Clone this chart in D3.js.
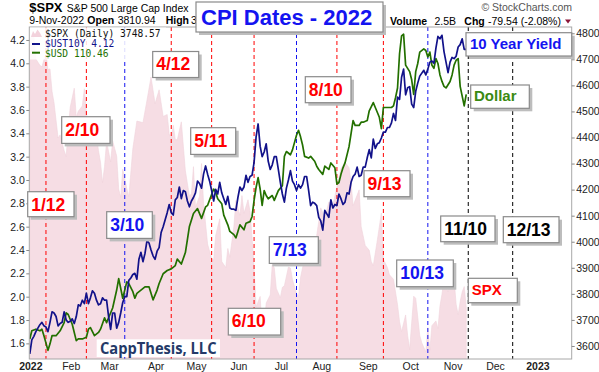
<!DOCTYPE html>
<html>
<head>
<meta charset="utf-8">
<script src="https://cdn.jsdelivr.net/npm/d3@7"></script>
<style>
  body { margin: 0; background: #fff; }
  svg { display: block; font-family: 'Liberation Sans', Arial, sans-serif; }
</style>
</head>
<body>
<svg></svg>
<script>
// ---- data ----
const spxData = [
  ['2021-12-31',4766],['2022-01-03',4797],['2022-01-04',4793],['2022-01-05',4701],['2022-01-07',4677],['2022-01-10',4671],
  ['2022-01-12',4726],['2022-01-13',4660],['2022-01-14',4663],['2022-01-18',4577],['2022-01-19',4533],['2022-01-21',4398],
  ['2022-01-24',4410],['2022-01-26',4350],['2022-01-27',4327],['2022-01-28',4432],['2022-01-31',4516],['2022-02-02',4589],
  ['2022-02-03',4478],['2022-02-04',4501],['2022-02-08',4521],['2022-02-09',4587],['2022-02-10',4504],['2022-02-11',4419],
  ['2022-02-14',4401],['2022-02-16',4475],['2022-02-18',4349],['2022-02-22',4305],['2022-02-23',4226],['2022-02-24',4289],
  ['2022-02-25',4385],['2022-03-01',4306],['2022-03-02',4387],['2022-03-04',4329],['2022-03-07',4201],['2022-03-08',4171],
  ['2022-03-09',4278],['2022-03-11',4204],['2022-03-14',4173],['2022-03-16',4358],['2022-03-18',4463],['2022-03-21',4461],
  ['2022-03-23',4457],['2022-03-25',4543],['2022-03-29',4632],['2022-03-31',4530],['2022-04-04',4583],['2022-04-06',4481],
  ['2022-04-08',4488],['2022-04-11',4413],['2022-04-12',4397],['2022-04-13',4447],['2022-04-14',4392],['2022-04-18',4391],
  ['2022-04-20',4460],['2022-04-22',4272],['2022-04-26',4175],['2022-04-27',4184],['2022-04-28',4288],['2022-04-29',4132],
  ['2022-05-03',4175],['2022-05-04',4300],['2022-05-05',4147],['2022-05-09',3991],['2022-05-11',3935],['2022-05-12',3930],
  ['2022-05-13',4024],['2022-05-17',4088],['2022-05-18',3924],['2022-05-20',3901],['2022-05-23',3974],['2022-05-24',3941],
  ['2022-05-26',4058],['2022-05-27',4158],['2022-06-01',4101],['2022-06-02',4177],['2022-06-03',4109],['2022-06-07',4161],
  ['2022-06-08',4116],['2022-06-09',4018],['2022-06-10',3901],['2022-06-13',3750],['2022-06-15',3790],['2022-06-16',3667],
  ['2022-06-17',3675],['2022-06-21',3765],['2022-06-23',3796],['2022-06-24',3912],['2022-06-27',3900],['2022-06-28',3821],
  ['2022-06-30',3785],['2022-07-01',3825],['2022-07-05',3831],['2022-07-07',3903],['2022-07-08',3899],['2022-07-11',3855],
  ['2022-07-13',3801],['2022-07-14',3790],['2022-07-15',3863],['2022-07-19',3937],['2022-07-21',3999],['2022-07-22',3962],
  ['2022-07-26',3921],['2022-07-27',4024],['2022-07-29',4130],['2022-08-02',4091],['2022-08-04',4152],['2022-08-08',4140],
  ['2022-08-10',4210],['2022-08-12',4280],['2022-08-16',4305],['2022-08-18',4284],['2022-08-19',4228],['2022-08-22',4138],
  ['2022-08-25',4199],['2022-08-26',4058],['2022-08-30',3986],['2022-09-01',3967],['2022-09-02',3924],['2022-09-06',3908],
  ['2022-09-08',4006],['2022-09-12',4110],['2022-09-13',3933],['2022-09-15',3901],['2022-09-16',3873],['2022-09-20',3856],
  ['2022-09-22',3758],['2022-09-23',3693],['2022-09-26',3655],['2022-09-28',3719],['2022-09-29',3640],['2022-09-30',3586],
  ['2022-10-04',3791],['2022-10-05',3783],['2022-10-07',3640],['2022-10-10',3612],['2022-10-12',3577],['2022-10-13',3670],
  ['2022-10-14',3583],['2022-10-17',3678],['2022-10-19',3696],['2022-10-20',3666],['2022-10-21',3753],['2022-10-24',3798],
  ['2022-10-25',3859],['2022-10-26',3831],['2022-10-27',3807],['2022-10-28',3901],['2022-11-01',3856],['2022-11-02',3760],
  ['2022-11-03',3720],['2022-11-04',3771],['2022-11-07',3807],['2022-11-08',3828],['2022-11-09',3749]
];

const yieldData = [
  ['2021-12-31',1.51],['2022-01-03',1.63],['2022-01-04',1.66],['2022-01-05',1.70],['2022-01-06',1.73],['2022-01-07',1.76],
  ['2022-01-10',1.78],['2022-01-11',1.75],['2022-01-12',1.74],['2022-01-13',1.70],['2022-01-14',1.78],['2022-01-18',1.87],
  ['2022-01-19',1.86],['2022-01-20',1.83],['2022-01-21',1.75],['2022-01-24',1.77],['2022-01-25',1.78],['2022-01-26',1.87],
  ['2022-01-27',1.80],['2022-01-28',1.78],['2022-01-31',1.79],['2022-02-01',1.81],['2022-02-02',1.77],['2022-02-03',1.83],
  ['2022-02-04',1.93],['2022-02-07',1.92],['2022-02-08',1.97],['2022-02-09',1.94],['2022-02-10',2.03],['2022-02-11',1.94],
  ['2022-02-14',1.99],['2022-02-15',2.05],['2022-02-16',2.03],['2022-02-17',1.97],['2022-02-18',1.93],['2022-02-22',1.94],
  ['2022-02-23',1.99],['2022-02-24',1.97],['2022-02-25',1.97],['2022-02-28',1.83],['2022-03-01',1.72],['2022-03-02',1.86],
  ['2022-03-03',1.86],['2022-03-04',1.73],['2022-03-07',1.78],['2022-03-08',1.86],['2022-03-09',1.95],['2022-03-10',2.00],
  ['2022-03-11',2.00],['2022-03-14',2.14],['2022-03-15',2.16],['2022-03-16',2.19],['2022-03-17',2.20],['2022-03-18',2.15],
  ['2022-03-21',2.32],['2022-03-22',2.38],['2022-03-23',2.30],['2022-03-24',2.37],['2022-03-25',2.48],['2022-03-28',2.46],
  ['2022-03-29',2.40],['2022-03-30',2.35],['2022-03-31',2.32],['2022-04-01',2.39],['2022-04-04',2.42],['2022-04-05',2.55],
  ['2022-04-06',2.60],['2022-04-07',2.66],['2022-04-08',2.72],['2022-04-11',2.79],['2022-04-12',2.72],['2022-04-13',2.70],
  ['2022-04-14',2.83],['2022-04-18',2.85],['2022-04-19',2.94],['2022-04-20',2.84],['2022-04-21',2.91],['2022-04-22',2.90],
  ['2022-04-25',2.82],['2022-04-26',2.77],['2022-04-27',2.82],['2022-04-28',2.85],['2022-04-29',2.89],['2022-05-02',2.99],
  ['2022-05-03',2.97],['2022-05-04',2.93],['2022-05-05',3.05],['2022-05-06',3.12],['2022-05-09',3.05],['2022-05-10',2.99],
  ['2022-05-11',2.91],['2022-05-12',2.82],['2022-05-13',2.92],['2022-05-16',2.88],['2022-05-17',2.98],['2022-05-18',2.89],
  ['2022-05-19',2.84],['2022-05-20',2.79],['2022-05-23',2.86],['2022-05-24',2.76],['2022-05-25',2.75],['2022-05-26',2.75],
  ['2022-05-27',2.74],['2022-05-31',2.85],['2022-06-01',2.94],['2022-06-02',2.91],['2022-06-03',2.94],['2022-06-06',3.04],
  ['2022-06-07',2.98],['2022-06-08',3.03],['2022-06-09',3.04],['2022-06-10',3.15],['2022-06-13',3.37],['2022-06-14',3.48],
  ['2022-06-15',3.29],['2022-06-16',3.20],['2022-06-17',3.24],['2022-06-21',3.31],['2022-06-22',3.16],['2022-06-23',3.09],
  ['2022-06-24',3.13],['2022-06-27',3.20],['2022-06-28',3.20],['2022-06-29',3.09],['2022-06-30',2.98],['2022-07-01',2.88],
  ['2022-07-05',2.81],['2022-07-06',2.93],['2022-07-07',3.00],['2022-07-08',3.08],['2022-07-11',2.99],['2022-07-12',2.96],
  ['2022-07-13',2.91],['2022-07-14',2.96],['2022-07-15',2.93],['2022-07-18',2.96],['2022-07-19',3.03],['2022-07-20',3.03],
  ['2022-07-21',2.91],['2022-07-22',2.78],['2022-07-25',2.81],['2022-07-26',2.80],['2022-07-27',2.78],['2022-07-28',2.68],
  ['2022-07-29',2.65],['2022-08-01',2.57],['2022-08-02',2.74],['2022-08-03',2.71],['2022-08-04',2.68],['2022-08-05',2.83],
  ['2022-08-08',2.76],['2022-08-09',2.79],['2022-08-10',2.78],['2022-08-11',2.88],['2022-08-12',2.84],['2022-08-15',2.79],
  ['2022-08-16',2.81],['2022-08-17',2.89],['2022-08-18',2.88],['2022-08-19',2.98],['2022-08-22',3.03],['2022-08-23',3.05],
  ['2022-08-24',3.11],['2022-08-25',3.03],['2022-08-26',3.04],['2022-08-29',3.11],['2022-08-30',3.11],['2022-08-31',3.19],
  ['2022-09-01',3.26],['2022-09-02',3.19],['2022-09-06',3.35],['2022-09-07',3.27],['2022-09-08',3.31],['2022-09-09',3.32],
  ['2022-09-12',3.36],['2022-09-13',3.41],['2022-09-14',3.41],['2022-09-15',3.45],['2022-09-16',3.45],['2022-09-19',3.49],
  ['2022-09-20',3.57],['2022-09-21',3.51],['2022-09-22',3.71],['2022-09-23',3.69],['2022-09-26',3.88],['2022-09-27',3.95],
  ['2022-09-28',3.73],['2022-09-29',3.79],['2022-09-30',3.80],['2022-10-03',3.65],['2022-10-04',3.62],['2022-10-05',3.76],
  ['2022-10-06',3.83],['2022-10-07',3.89],['2022-10-11',3.94],['2022-10-12',3.90],['2022-10-13',3.95],['2022-10-14',4.01],
  ['2022-10-17',4.02],['2022-10-18',4.00],['2022-10-19',4.13],['2022-10-20',4.23],['2022-10-21',4.21],['2022-10-24',4.24],
  ['2022-10-25',4.10],['2022-10-26',4.01],['2022-10-27',3.92],['2022-10-28',4.01],['2022-10-31',4.05],['2022-11-01',4.04],
  ['2022-11-02',4.06],['2022-11-03',4.14],['2022-11-04',4.16],['2022-11-07',4.21],['2022-11-08',4.12],['2022-11-09',4.12]
];

const usdData = [
  ['2021-12-31',95.4],['2022-01-03',95.9],['2022-01-05',96.0],['2022-01-07',95.9],['2022-01-10',96.0],['2022-01-11',95.6],
  ['2022-01-13',94.7],['2022-01-14',95.1],['2022-01-18',95.6],['2022-01-20',95.6],['2022-01-24',95.9],['2022-01-26',96.4],
  ['2022-01-27',97.0],['2022-01-28',96.9],['2022-02-01',96.3],['2022-02-03',95.3],['2022-02-04',95.4],['2022-02-08',95.4],
  ['2022-02-10',95.5],['2022-02-11',96.0],['2022-02-14',96.1],['2022-02-16',95.6],['2022-02-18',95.8],['2022-02-22',96.0],
  ['2022-02-24',96.7],['2022-02-25',96.4],['2022-02-28',96.7],['2022-03-02',97.3],['2022-03-04',98.4],['2022-03-07',99.1],
  ['2022-03-09',97.9],['2022-03-11',98.9],['2022-03-14',98.8],['2022-03-16',98.3],['2022-03-17',97.9],['2022-03-18',98.2],
  ['2022-03-22',98.4],['2022-03-24',98.6],['2022-03-28',98.6],['2022-03-30',97.8],['2022-04-01',98.4],['2022-04-04',98.8],
  ['2022-04-06',99.4],['2022-04-08',99.6],['2022-04-12',99.7],['2022-04-14',99.9],['2022-04-18',100.3],['2022-04-20',100.0],
  ['2022-04-22',100.7],['2022-04-25',101.5],['2022-04-26',102.3],['2022-04-28',103.1],['2022-05-02',103.4],['2022-05-04',102.8],
  ['2022-05-06',103.5],['2022-05-09',103.6],['2022-05-12',104.6],['2022-05-13',104.4],['2022-05-16',104.0],['2022-05-18',103.7],
  ['2022-05-19',103.0],['2022-05-23',102.4],['2022-05-24',102.0],['2022-05-26',101.8],['2022-05-27',101.6],['2022-05-31',102.0],
  ['2022-06-01',102.4],['2022-06-03',102.1],['2022-06-06',102.5],['2022-06-08',102.6],['2022-06-09',102.9],['2022-06-10',103.9],
  ['2022-06-13',104.7],['2022-06-14',105.3],['2022-06-15',104.6],['2022-06-16',103.6],['2022-06-17',104.5],['2022-06-21',104.2],
  ['2022-06-22',104.0],['2022-06-24',104.2],['2022-06-27',103.9],['2022-06-29',104.5],['2022-07-01',104.8],['2022-07-05',106.6],
  ['2022-07-06',106.9],['2022-07-08',106.7],['2022-07-11',107.0],['2022-07-13',107.9],['2022-07-14',108.2],['2022-07-15',107.8],
  ['2022-07-18',107.3],['2022-07-19',106.6],['2022-07-21',106.5],['2022-07-22',106.6],['2022-07-26',106.3],['2022-07-27',106.0],
  ['2022-07-28',105.8],['2022-08-01',105.5],['2022-08-02',106.0],['2022-08-04',105.8],['2022-08-05',106.2],['2022-08-09',105.9],
  ['2022-08-10',104.9],['2022-08-11',105.0],['2022-08-12',105.5],['2022-08-15',105.9],['2022-08-16',106.2],['2022-08-18',107.2],
  ['2022-08-19',108.0],['2022-08-22',108.8],['2022-08-23',108.5],['2022-08-25',108.5],['2022-08-26',108.7],['2022-08-29',108.7],
  ['2022-08-31',108.8],['2022-09-01',109.4],['2022-09-06',109.9],['2022-09-07',109.6],['2022-09-09',109.0],['2022-09-12',108.3],
  ['2022-09-13',109.6],['2022-09-14',109.6],['2022-09-16',109.6],['2022-09-19',109.6],['2022-09-20',109.7],['2022-09-21',110.2],
  ['2022-09-22',110.8],['2022-09-23',112.9],['2022-09-26',114.0],['2022-09-27',114.1],['2022-09-28',112.2],['2022-09-29',112.0],
  ['2022-09-30',111.8],['2022-10-03',111.3],['2022-10-04',110.4],['2022-10-05',111.8],['2022-10-06',112.3],['2022-10-07',113.0],
  ['2022-10-11',113.2],['2022-10-12',113.1],['2022-10-13',112.7],['2022-10-14',113.0],['2022-10-17',112.2],['2022-10-18',112.0],
  ['2022-10-19',112.6],['2022-10-20',112.3],['2022-10-21',111.6],['2022-10-24',111.2],['2022-10-25',110.9],['2022-10-26',110.8],
  ['2022-10-27',111.0],['2022-10-28',111.2],['2022-10-31',111.6],['2022-11-01',112.2],['2022-11-02',112.5],['2022-11-03',112.6],
  ['2022-11-04',110.9],['2022-11-07',110.3],['2022-11-08',109.7],['2022-11-09',110.4]
];

const cpiDates = ['2022-01-12','2022-02-10','2022-03-10','2022-04-12','2022-05-11','2022-06-10',
                  '2022-07-13','2022-08-10','2022-09-13','2022-10-13','2022-11-10','2022-12-13'];
const cpiLabels = ['1/12','2/10','3/10','4/12','5/11','6/10','7/13','8/10','9/13','10/13','11/10','12/13'];
const cpiGroup = ['r','r','b','r','r','r','b','r','r','b','k','k'];

const monthStarts = ['2022-01-01','2022-02-01','2022-03-01','2022-04-01','2022-05-01','2022-06-01','2022-07-01',
                     '2022-08-01','2022-09-01','2022-10-01','2022-11-01','2022-12-01','2023-01-01'];
const monthLabels = ['2022','Feb','Mar','Apr','May','Jun','Jul','Aug','Sep','Oct','Nov','Dec','2023'];

const leftTicks = [1.6,1.8,2.0,2.2,2.4,2.6,2.8,3.0,3.2,3.4,3.6,3.8,4.0,4.2];
const rightTicks = [3600,3700,3800,3900,4000,4100,4200,4300,4400,4500,4600,4700,4800];

const holidays = ['2022-01-17','2022-02-21','2022-04-15','2022-05-30','2022-06-20','2022-07-04',
                  '2022-09-05','2022-11-24','2022-12-26','2023-01-02','2023-01-16'];

// ---- layout ----
const width = 599;
const height = 372;
const plot = { left: 29.3, right: 571.7, top: 27, bottom: 359 };

const groupColor = { r: '#ff0000', b: '#1414f0', k: '#000000' };
const navy = '#12128a';
const green = '#237000';

// annotation boxes placed by hand, like the original
const cpiBoxes = [
  [27.7,191.7,46.3,25], [61.7,116.7,48.3,26.7], [106.7,211.7,45.6,26.7], [152.7,51.5,46,26],
  [190.7,127.7,45,26.7], [228.3,308.3,52.4,26.7], [269.3,236.7,49,26.7], [305.3,76.7,45.7,26],
  [364,170.7,46,26], [396.7,260,56.6,26.7], [440.7,216,54.3,25.7], [503.3,216.7,55.7,26]
];

const parseDate = d3.utcParse('%Y-%m-%d');
const fmtDay = d3.utcFormat('%Y-%m-%d');

let svg = d3.select('svg');
let xScale, yLeft, yRight, yUsd;
let tdNums = [];

function buildCalendar () {
  // StockCharts spaces the x axis by trading days
  tdNums = d3.utcDay.range(parseDate('2021-12-31'), parseDate('2023-02-01'))
    .filter(d => d.getUTCDay() !== 0 && d.getUTCDay() !== 6 && !holidays.includes(fmtDay(d)))
    .map(d => +d);
}

function dayIndex (s) {
  return d3.bisectLeft(tdNums, +parseDate(s));
}

function drawCanvas () {
  svg.attr('width', width).attr('height', height);
  svg.append('rect').attr('width', width).attr('height', height).attr('fill', '#fff');
  svg.append('clipPath').attr('id', 'clip')
    .append('rect')
    .attr('x', plot.left).attr('y', plot.top)
    .attr('width', plot.right - plot.left).attr('height', plot.bottom - plot.top);
}

function generateScales () {
  xScale = d3.scaleLinear().domain([0, 268.2]).range([29.8, 571.7]);
  yLeft = d3.scaleLinear().domain([1.466, 4.311]).range([plot.bottom, plot.top]);
  yRight = d3.scaleLinear().domain([3550, 4824]).range([plot.bottom, plot.top]);
  yUsd = d3.scaleLinear().domain([94.17, 114.54]).range([plot.bottom, plot.top]);
}

function drawSeries () {
  let g = svg.append('g').attr('clip-path', 'url(#clip)');

  let area = d3.area()
    .x(d => xScale(dayIndex(d[0])))
    .y0(plot.bottom)
    .y1(d => yRight(d[1]));
  g.append('path').datum(spxData)
    .attr('d', area)
    .attr('fill', '#f6dde4')
    .attr('stroke', '#f0d3db')
    .attr('stroke-width', 0.6);

  // CPI date markers
  g.selectAll('line.cpi')
    .data(cpiDates)
    .enter()
    .append('line')
    .attr('class', 'cpi')
    .attr('x1', d => xScale(dayIndex(d)))
    .attr('x2', d => xScale(dayIndex(d)))
    .attr('y1', plot.top)
    .attr('y2', plot.bottom)
    .attr('stroke', (d, i) => groupColor[cpiGroup[i]])
    .attr('stroke-width', 1)
    .attr('stroke-dasharray', '4,3');

  let usdLine = d3.line()
    .x(d => xScale(dayIndex(d[0])))
    .y(d => yUsd(d[1]));
  g.append('path').datum(usdData)
    .attr('d', usdLine)
    .attr('fill', 'none')
    .attr('stroke', green)
    .attr('stroke-width', 1.7)
    .attr('stroke-linejoin', 'round');

  let yieldLine = d3.line()
    .x(d => xScale(dayIndex(d[0])))
    .y(d => yLeft(d[1]));
  g.append('path').datum(yieldData)
    .attr('d', yieldLine)
    .attr('fill', 'none')
    .attr('stroke', navy)
    .attr('stroke-width', 1.7)
    .attr('stroke-linejoin', 'round');
}

function generateAxes () {
  svg.append('rect')
    .attr('x', plot.left).attr('y', plot.top)
    .attr('width', plot.right - plot.left).attr('height', plot.bottom - plot.top)
    .attr('fill', 'none').attr('stroke', '#a8a8a8').attr('stroke-width', 1);

  let leftAxis = d3.axisLeft(yLeft).tickValues(leftTicks).tickSize(3).tickPadding(1.5)
    .tickFormat(d3.format('.1f'));
  let gl = svg.append('g')
    .attr('transform', 'translate(' + plot.left + ', 0)')
    .call(leftAxis);

  let rightAxis = d3.axisRight(yRight).tickValues(rightTicks).tickSize(3).tickPadding(1.5)
    .tickFormat(d3.format('d'));
  let gr = svg.append('g')
    .attr('transform', 'translate(' + plot.right + ', 0)')
    .call(rightAxis);

  [gl, gr].forEach(g => {
    g.select('.domain').remove();
    g.selectAll('line').attr('stroke', '#888');
    g.selectAll('text').attr('font-size', '10.5px').attr('fill', '#222')
      .attr('font-family', "'Liberation Sans', Arial, sans-serif");
  });

  svg.selectAll('text.month')
    .data(monthStarts)
    .enter()
    .append('text')
    .attr('class', 'month')
    .attr('x', d => xScale(dayIndex(d)) - 1)
    .attr('y', 370)
    .attr('text-anchor', 'middle')
    .attr('font-size', '10.5px')
    .attr('font-weight', (d, i) => monthLabels[i].length === 4 ? 'bold' : 'normal')
    .attr('fill', '#222')
    .text((d, i) => monthLabels[i]);
}

function drawHeader () {
  svg.append('text').attr('x', 29.3).attr('y', 11.5)
    .attr('font-size', '13px').attr('font-weight', 'bold').text('$SPX');
  svg.append('text').attr('x', 66.7).attr('y', 11.5)
    .attr('font-size', '10.5px').text('S&P 500 Large Cap Index');

  let t = svg.append('text').attr('x', 29.3).attr('y', 24).attr('font-size', '10.5px');
  t.append('tspan').text('9-Nov-2022 ');
  t.append('tspan').attr('x', 87.3).attr('font-weight', 'bold').text('Open');
  t.append('tspan').attr('x', 117.7).text('3810.94');
  t.append('tspan').attr('x', 165.7).attr('font-weight', 'bold').text('High');
  t.append('tspan').attr('x', 191).text('3818');

  svg.append('text').attr('x', 572).attr('y', 10.5).attr('text-anchor', 'end')
    .attr('font-size', '10.5px').attr('fill', '#555').text('\u00a9 StockCharts.com');

  let v = svg.append('text').attr('y', 25).attr('font-size', '10.5px');
  v.append('tspan').attr('x', 390).attr('font-weight', 'bold').text('Volume');
  v.append('tspan').attr('x', 434.5).text('2.5B');
  v.append('tspan').attr('x', 464.3).attr('font-weight', 'bold').text('Chg');
  v.append('tspan').attr('x', 488).text('-79.54 (-2.08%)');
  svg.append('path').attr('d', 'M565,19.5 L571,19.5 L568,23.5 Z').attr('fill', '#8b1538');
}

function drawLegend () {
  svg.append('rect').attr('x', 30).attr('y', 27.5).attr('width', 136).attr('height', 32)
    .attr('fill', '#fff').attr('opacity', 0.85);
  svg.append('path').attr('d', 'M31,37 L33,31 L35,34 L37.5,29.5 L40,33 L42,37 Z').attr('fill', '#f3d2dc');

  let mono = "'DejaVu Sans Mono', 'Liberation Mono', monospace";
  svg.append('text').attr('x', 45).attr('y', 37.3).attr('font-family', mono)
    .attr('font-size', '9.6px').attr('fill', '#111').text('$SPX (Daily) 3748.57');
  svg.append('line').attr('x1', 32).attr('x2', 40).attr('y1', 44).attr('y2', 44)
    .attr('stroke', navy).attr('stroke-width', 2);
  svg.append('text').attr('x', 45).attr('y', 47.3).attr('font-family', mono)
    .attr('font-size', '9.6px').attr('fill', navy).text('$UST10Y 4.12');
  svg.append('line').attr('x1', 32).attr('x2', 40).attr('y1', 52.7).attr('y2', 52.7)
    .attr('stroke', green).attr('stroke-width', 2);
  svg.append('text').attr('x', 45).attr('y', 56.5).attr('font-family', mono)
    .attr('font-size', '9.6px').attr('fill', green).text('$USD 110.46');
}

function drawBox (b, label, color, size, dx, dy) {
  let g = svg.append('g');
  g.append('rect').attr('x', b[0] + 3).attr('y', b[1] + 3).attr('width', b[2]).attr('height', b[3])
    .attr('fill', '#bdbdbd');
  g.append('rect').attr('x', b[0]).attr('y', b[1]).attr('width', b[2]).attr('height', b[3])
    .attr('fill', '#fff').attr('stroke', '#8a8a8a').attr('stroke-width', 1.2);
  g.append('text').attr('x', b[0] + dx).attr('y', b[1] + dy)
    .attr('font-size', size + 'px').attr('font-weight', 'bold').attr('fill', color).text(label);
}

function drawAnnotations () {
  cpiLabels.forEach((label, i) => {
    drawBox(cpiBoxes[i], label, groupColor[cpiGroup[i]], 17.5, 3.5, 18.8);
  });
  drawBox([466, 32.7, 105.7, 23.3], '10 Year Yield', '#1414f0', 15, 4, 15.8);
  drawBox([470.7, 85, 58.6, 23.3], 'Dollar', '#3a8a12', 15, 3.3, 16.2);
  drawBox([468.3, 278.3, 49, 24.4], 'SPX', '#ff0000', 15, 3.4, 16.8);
  drawBox([196, 2, 187, 30], 'CPI Dates - 2022', '#1414f0', 22, 5, 23);

  svg.append('rect').attr('x', 96.7).attr('y', 339.3).attr('width', 123.3).attr('height', 17.7)
    .attr('fill', '#fff');
  svg.append('text').attr('x', 100).attr('y', 353.5)
    .attr('font-family', "'Open Sans', 'Liberation Sans', sans-serif")
    .attr('font-size', '15.5px').attr('font-weight', 'bold').attr('fill', '#243a68')
    .attr('textLength', 116.5).attr('lengthAdjust', 'spacingAndGlyphs')
    .text('CappThesis, LLC');
}

buildCalendar();
drawCanvas();
generateScales();
drawSeries();
generateAxes();
drawHeader();
drawLegend();
drawAnnotations();
</script>
</body>
</html>
